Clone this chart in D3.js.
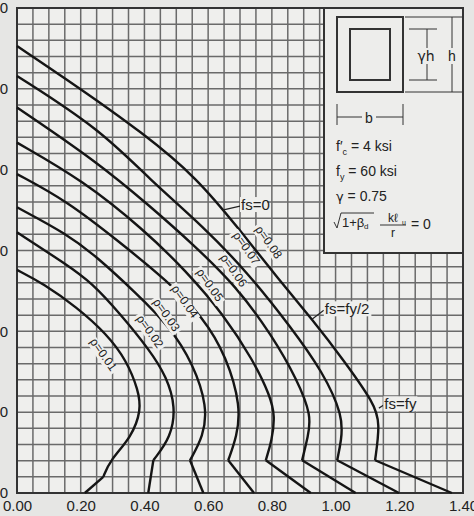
<!DOCTYPE html>
<html><head><meta charset="utf-8">
<script src="https://cdn.jsdelivr.net/npm/d3@7"></script>
<style>body{margin:0;background:#e6e6e4}svg{display:block}</style>
</head><body><svg id="c" width="474" height="516"></svg>
<script>
const xTicks=[0,0.2,0.4,0.6,0.8,1.0,1.2,1.4];
const xTickLabels=["0.00","0.20","0.40","0.60","0.80","1.00","1.20","1.40"];
const yTicks=[0,0.2,0.4,0.6,0.8,1.0,1.2];
const yTickLabels=["0.00","0.20","0.40","0.60","0.80","1.00","1.20"];
const rhoNames=["ρ=0.01","ρ=0.02","ρ=0.03","ρ=0.04","ρ=0.05","ρ=0.06","ρ=0.07","ρ=0.08"];
const rho01=[[0,0.552],[0.083,0.518],[0.187,0.46],[0.281,0.394],[0.344,0.328],[0.381,0.254],[0.39,0.205],[0.36,0.139],[0.292,0.081],[0.271,0.04],[0.213,0]];
const rho02=[[0,0.645],[0.156,0.565],[0.235,0.52],[0.323,0.444],[0.417,0.353],[0.470,0.287],[0.498,0.213],[0.484,0.139],[0.428,0.081],[0.412,0]];
const rho03=[[0,0.707],[0.156,0.641],[0.25,0.585],[0.376,0.493],[0.480,0.411],[0.553,0.32],[0.598,0.213],[0.585,0.14],[0.543,0.081],[0.585,0]];
const rho04=[[0,0.789],[0.156,0.723],[0.323,0.62],[0.470,0.526],[0.585,0.435],[0.658,0.337],[0.703,0.213],[0.690,0.14],[0.663,0.081],[0.744,0]];
const rho05=[[0,0.867],[0.208,0.773],[0.40,0.65],[0.53,0.55],[0.65,0.44],[0.74,0.33],[0.795,0.24],[0.810,0.19],[0.800,0.13],[0.781,0.081],[0.922,0]];
const rho06=[[0,0.954],[0.25,0.82],[0.417,0.71],[0.553,0.615],[0.69,0.51],[0.80,0.39],[0.88,0.28],[0.925,0.19],[0.913,0.139],[0.895,0.081],[1.063,0]];
const rho07=[[0,1.032],[0.261,0.900],[0.417,0.775],[0.584,0.66],[0.73,0.54],[0.86,0.41],[0.96,0.30],[1.024,0.19],[1.018,0.13],[1.005,0.081],[1.199,0]];
const rho08=[[0,1.106],[0.187,1.007],[0.395,0.891],[0.565,0.78],[0.70,0.65],[0.82,0.53],[0.926,0.43],[1.026,0.328],[1.121,0.222],[1.140,0.173],[1.124,0.081],[1.365,0]];
const curves=[rho01,rho02,rho03,rho04,rho05,rho06,rho07,rho08];
const labelPos=[[0.261,0.337],[0.407,0.394],[0.459,0.435],[0.517,0.468],[0.595,0.509],[0.67,0.545],[0.71,0.60],[0.78,0.615]];
const fsLabels=["fs=0","fs=fy/2","fs=fy"];
const fsPoints=[[0.645,0.70],[0.926,0.43],[1.136,0.21]];
const fsText=[[0.70,0.71],[0.963,0.452],[1.15,0.217]];

const svg=d3.select("#c");
const L=17,R=463,T=8,B=493;
const x=d3.scaleLinear().domain([0,1.4]).range([L,R]);
const y=d3.scaleLinear().domain([0,1.2]).range([B,T]);
const bg="#efefed";
const font="Liberation Sans Narrow, Liberation Sans";
const g=svg.append("g");
g.append("rect").attr("x",L).attr("y",T).attr("width",R-L).attr("height",B-T).attr("fill",bg);
g.selectAll(".vx").data(d3.range(0,1.4001,0.05)).enter().append("line")
 .attr("x1",d=>x(d)).attr("x2",d=>x(d)).attr("y1",T).attr("y2",B).attr("stroke","#6a6a6a").attr("stroke-width",1.5);
g.selectAll(".hy").data(d3.range(0,1.2001,0.04)).enter().append("line")
 .attr("y1",d=>y(d)).attr("y2",d=>y(d)).attr("x1",L).attr("x2",R).attr("stroke","#6a6a6a").attr("stroke-width",1.5);
g.append("rect").attr("x",L).attr("y",T).attr("width",R-L).attr("height",B-T).attr("fill","none").attr("stroke","#333").attr("stroke-width",2);
const xa=d3.axisBottom(x).tickValues(xTicks).tickFormat((d,i)=>xTickLabels[i]).tickSize(0).tickPadding(7);
svg.append("g").attr("transform",`translate(0,${B})`).call(xa).call(s=>s.select(".domain").remove())
 .selectAll("text").attr("font-family",font).attr("font-size",15).attr("fill","#222");
const ya=d3.axisLeft(y).tickValues(yTicks).tickFormat((d,i)=>yTickLabels[i]).tickSize(0).tickPadding(9);
svg.append("g").attr("transform",`translate(${L},0)`).call(ya).call(s=>s.select(".domain").remove())
 .selectAll("text").attr("font-family",font).attr("font-size",15).attr("fill","#222");
const smooth=d3.line().x(d=>x(d[0])).y(d=>y(d[1])).curve(d3.curveBasis);
const straight=d3.line().x(d=>x(d[0])).y(d=>y(d[1]));
curves.forEach(c=>{
 g.append("path").attr("d",smooth(c.slice(0,c.length-1))).attr("fill","none").attr("stroke","#151515").attr("stroke-width",2.4);
 g.append("path").attr("d",straight(c.slice(c.length-2))).attr("fill","none").attr("stroke","#151515").attr("stroke-width",2.4);
});
labelPos.forEach((p,i)=>{
 const tx=x(p[0]),ty=y(p[1]);
 g.append("rect").attr("x",-21).attr("y",-8).attr("width",42).attr("height",11).attr("fill",bg)
  .attr("transform",`translate(${tx},${ty}) rotate(55)`);
 g.append("text").attr("transform",`translate(${tx},${ty}) rotate(55)`).attr("text-anchor","middle")
  .attr("font-family",font).attr("font-size",12).attr("fill","#222").text(rhoNames[i]);
});
fsLabels.forEach((t,i)=>{
 const px=x(fsPoints[i][0]),py=y(fsPoints[i][1]),tx=x(fsText[i][0]),ty=y(fsText[i][1]);
 g.append("line").attr("x1",px).attr("y1",py).attr("x2",tx).attr("y2",ty).attr("stroke","#222").attr("stroke-width",1.2);
 g.append("rect").attr("x",tx).attr("y",ty-9).attr("width",t.length*6.8).attr("height",15).attr("fill",bg);
 g.append("text").attr("x",tx+1).attr("y",ty+4).attr("font-family",font).attr("font-size",15).attr("fill","#222").text(t);
});
const lg=svg.append("g").attr("font-family",font).attr("fill","#222");
lg.append("rect").attr("x",324).attr("y",T).attr("width",R-324).attr("height",245).attr("fill","#ededeb").attr("stroke","#333").attr("stroke-width",2);
lg.append("rect").attr("x",337).attr("y",17).attr("width",66).attr("height",75).attr("fill","none").attr("stroke","#333").attr("stroke-width",2);
lg.append("rect").attr("x",350).attr("y",29).attr("width",40).attr("height",51).attr("fill","none").attr("stroke","#333").attr("stroke-width",2);
[[409,437,29],[409,437,80],[405,462,17],[405,462,92]].forEach(a=>lg.append("line").attr("x1",a[0]).attr("x2",a[1]).attr("y1",a[2]).attr("y2",a[2]).attr("stroke","#333"));
lg.append("line").attr("x1",427).attr("x2",427).attr("y1",29).attr("y2",80).attr("stroke","#333");
lg.append("line").attr("x1",452).attr("x2",452).attr("y1",17).attr("y2",92).attr("stroke","#333");
lg.append("rect").attr("x",418).attr("y",48).attr("width",40).attr("height",16).attr("fill","#ededeb");
lg.append("text").attr("x",426).attr("y",61).attr("text-anchor","middle").attr("font-size",14).attr("font-family","DejaVu Sans").text("γh");
lg.append("text").attr("x",452).attr("y",61).attr("text-anchor","middle").attr("font-size",14).text("h");
lg.append("line").attr("x1",337).attr("x2",403).attr("y1",117).attr("y2",117).attr("stroke","#333");
lg.append("line").attr("x1",337).attr("x2",337).attr("y1",104).attr("y2",125).attr("stroke","#333");
lg.append("line").attr("x1",403).attr("x2",403).attr("y1",104).attr("y2",125).attr("stroke","#333");
lg.append("rect").attr("x",362).attr("y",110).attr("width",14).attr("height",14).attr("fill","#ededeb");
lg.append("text").attr("x",369).attr("y",123).attr("text-anchor","middle").attr("font-size",14).text("b");
const t1=lg.append("text").attr("x",336).attr("y",151).attr("font-size",14);
t1.append("tspan").text("f′");t1.append("tspan").attr("font-size",9).attr("dy",4).text("c");t1.append("tspan").attr("dy",-4).text("  = 4 ksi");
const t2=lg.append("text").attr("x",336).attr("y",176).attr("font-size",14);
t2.append("tspan").text("f");t2.append("tspan").attr("font-size",9).attr("dy",4).text("y");t2.append("tspan").attr("dy",-4).text("  = 60 ksi");
const t3=lg.append("text").attr("x",336).attr("y",201).attr("font-size",14);
t3.append("tspan").attr("font-family","DejaVu Sans").attr("font-size",13).text("γ");t3.append("tspan").text("  = 0.75");
lg.append("path").attr("d","M334,222 L337,228 L341,213 L374,213").attr("fill","none").attr("stroke","#333");
lg.append("text").attr("x",342).attr("y",227).attr("font-size",13).text("1+β");
lg.append("text").attr("x",364).attr("y",229).attr("font-size",8).text("d");
lg.append("text").attr("x",393).attr("y",222).attr("text-anchor","middle").attr("font-size",12).text("kℓ");
lg.append("text").attr("x",402).attr("y",225).attr("font-size",7).text("u");
lg.append("line").attr("x1",380).attr("x2",406).attr("y1",225).attr("y2",225).attr("stroke","#333");
lg.append("text").attr("x",393).attr("y",237).attr("text-anchor","middle").attr("font-size",12).text("r");
lg.append("text").attr("x",411).attr("y",229).attr("font-size",14).text("= 0");
</script></body></html>
